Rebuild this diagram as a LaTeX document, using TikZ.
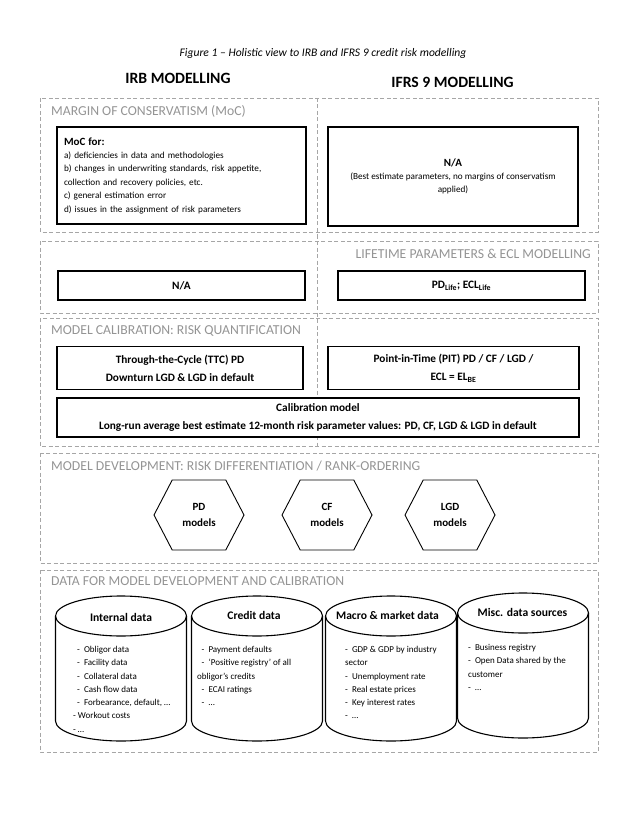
\documentclass[tikz,border=0pt]{standalone}
\usepackage{fontspec}
\setmainfont{Carlito}
\usetikzlibrary{shapes.symbols}

\begin{document}
\begin{tikzpicture}[x=1pt, y=-1pt,
	panel/.style={draw=black!35, dash pattern=on 4pt off 2.5pt, line width=0.8pt},
	sechead/.style={text=black!42, font=\fontsize{13.7}{16}\selectfont, inner sep=0pt},
	box/.style={draw, fill=white, line width=1.1pt, inner sep=0pt, align=center},
	boxtext/.style={font=\fontsize{11.3}{18}\selectfont\bfseries},
	body/.style={font=\fontsize{9}{13.3}\selectfont, align=left, inner sep=0pt},
	hexa/.style={draw, line width=0.9pt, signal, signal to=east and west, signal pointer angle=125, minimum width=90, minimum height=70, inner sep=0pt, align=center, font=\fontsize{11}{16}\selectfont\bfseries},
	drum/.style={draw, line width=1.1pt},
	drumhead/.style={font=\fontsize{11.6}{13}\selectfont\bfseries, inner sep=0pt}]

	\useasboundingbox (0,0) rectangle (638,826);

	\node[font=\fontsize{11.6}{13}\selectfont\itshape] (title) at (323,53) {Figure 1 – Holistic view to IRB and IFRS 9 credit risk modelling};
	\node[font=\fontsize{15.7}{18}\selectfont\bfseries] (irb) at (178,78) {IRB MODELLING};
	\node[font=\fontsize{15.7}{18}\selectfont\bfseries] (ifrs) at (452.5,82) {IFRS 9 MODELLING};

	\draw[panel] (40,98) rectangle (598,232);
	\draw[panel] (40,241) rectangle (598,313);
	\draw[panel] (40,318) rectangle (598,446);
	\draw[panel] (40,453) rectangle (598,563);
	\draw[panel] (40,570) rectangle (598,752);
	\draw[panel] (317,98) -- (317,446);

	\node[sechead, anchor=west] (hmoc) at (51,111) {MARGIN OF CONSERVATISM (MoC)};
	\node[sechead, anchor=east] (hlife) at (591,254) {LIFETIME PARAMETERS \& ECL MODELLING};
	\node[sechead, anchor=west] (hcal) at (51,331) {MODEL CALIBRATION: RISK QUANTIFICATION};
	\node[sechead, anchor=west] (hdev) at (51,466) {MODEL DEVELOPMENT: RISK DIFFERENTIATION / RANK-ORDERING};
	\node[sechead, anchor=west] (hdata) at (51,581) {DATA FOR MODEL DEVELOPMENT AND CALIBRATION};

	\node[box, align=left, text width=235, inner xsep=7, minimum height=97, font=\fontsize{9.2}{13.4}\selectfont] (moc) at (181.5,175.5) {{\fontsize{11}{13.4}\selectfont\bfseries MoC for:}\\a) deficiencies in data and methodologies\\b) changes in underwriting standards, risk appetite,\\collection and recovery policies, etc.\\c) general estimation error\\d) issues in the assignment of risk parameters};
	\node[box, minimum width=250, minimum height=99, font=\fontsize{9.2}{13}\selectfont] (mocna) at (453,176.5) {{\fontsize{11}{13}\selectfont\bfseries N/A}\\(Best estimate parameters, no margins of conservatism\\applied)};

	\node[box, boxtext, minimum width=247, minimum height=29] (lifena) at (181.5,285.5) {N/A};
	\node[box, boxtext, minimum width=247, minimum height=29] (life) at (461.5,285.5) {PD\textsubscript{Life}; ECL\textsubscript{Life}};

	\node[box, boxtext, minimum width=246, minimum height=43] (ttc) at (180,368) {Through-the-Cycle (TTC) PD\\Downturn LGD \& LGD in default};
	\node[box, boxtext, minimum width=251, minimum height=43] (pit) at (453.5,368) {Point-in-Time (PIT) PD / CF / LGD /\\ECL = EL\textsubscript{BE}};
	\node[box, boxtext, minimum width=522, minimum height=39] (calib) at (318,417.5) {Calibration model\\Long-run average best estimate 12-month risk parameter values: PD, CF, LGD \& LGD in default};

	\node[hexa] (pd) at (199,515) {PD\\models};
	\node[hexa] (cf) at (327,515) {CF\\models};
	\node[hexa] (lgd) at (450,515) {LGD\\models};

	\coordinate (int) at (121,616);
	\coordinate (cred) at (257,616);
	\coordinate (macro) at (391,616);
	\coordinate (misc) at (523,613);

	\draw[drum] ([xshift=-65.5pt]int) -- ++(0,105) arc[start angle=180, end angle=0, x radius=65.5, y radius=20] -- ++(0,-105);
	\draw[drum] (int) ellipse [x radius=65.5, y radius=20];
	\draw[drum] ([xshift=-65.5pt]cred) -- ++(0,105) arc[start angle=180, end angle=0, x radius=65.5, y radius=20] -- ++(0,-105);
	\draw[drum] (cred) ellipse [x radius=65.5, y radius=20];
	\draw[drum] ([xshift=-65.5pt]macro) -- ++(0,105) arc[start angle=180, end angle=0, x radius=65.5, y radius=20] -- ++(0,-105);
	\draw[drum] (macro) ellipse [x radius=65.5, y radius=20];
	\draw[drum] ([xshift=-65.5pt]misc) -- ++(0,105) arc[start angle=180, end angle=0, x radius=65.5, y radius=20] -- ++(0,-105);
	\draw[drum] (misc) ellipse [x radius=65.5, y radius=20];

	\node[drumhead] (hint) at (121,617) {Internal data};
	\node[drumhead] (hcred) at (254,615) {Credit data};
	\node[drumhead] (hmacro) at (387.5,615) {Macro \& market data};
	\node[drumhead] (hmisc) at (522.5,612.5) {Misc. data sources};

	\node[body, anchor=north west] (lint) at (73,646) {\hspace*{4pt}-\ \ Obligor data\\\hspace*{4pt}-\ \ Facility data\\\hspace*{4pt}-\ \ Collateral data\\\hspace*{4pt}-\ \ Cash flow data\\\hspace*{4pt}-\ \ Forbearance, default, …\\- Workout costs\\- …};
	\node[body, anchor=north west] (lcred) at (197,646) {\hspace*{4.5pt}-\ \ Payment defaults\\\hspace*{4.5pt}-\ \ ‘Positive registry’ of all\\obligor’s credits\\\hspace*{4.5pt}-\ \ ECAI ratings\\\hspace*{4.5pt}-\ \ …};
	\node[body, anchor=north west] (lmacro) at (345,646) {-\ \ GDP \& GDP by industry\\sector\\-\ \ Unemployment rate\\-\ \ Real estate prices\\-\ \ Key interest rates\\-\ \ …};
	\node[body, anchor=north west] (lmisc) at (468,644) {-\ \ Business registry\\-\ \ Open Data shared by the\\customer\\-\ \ …};

\end{tikzpicture}
\end{document}
